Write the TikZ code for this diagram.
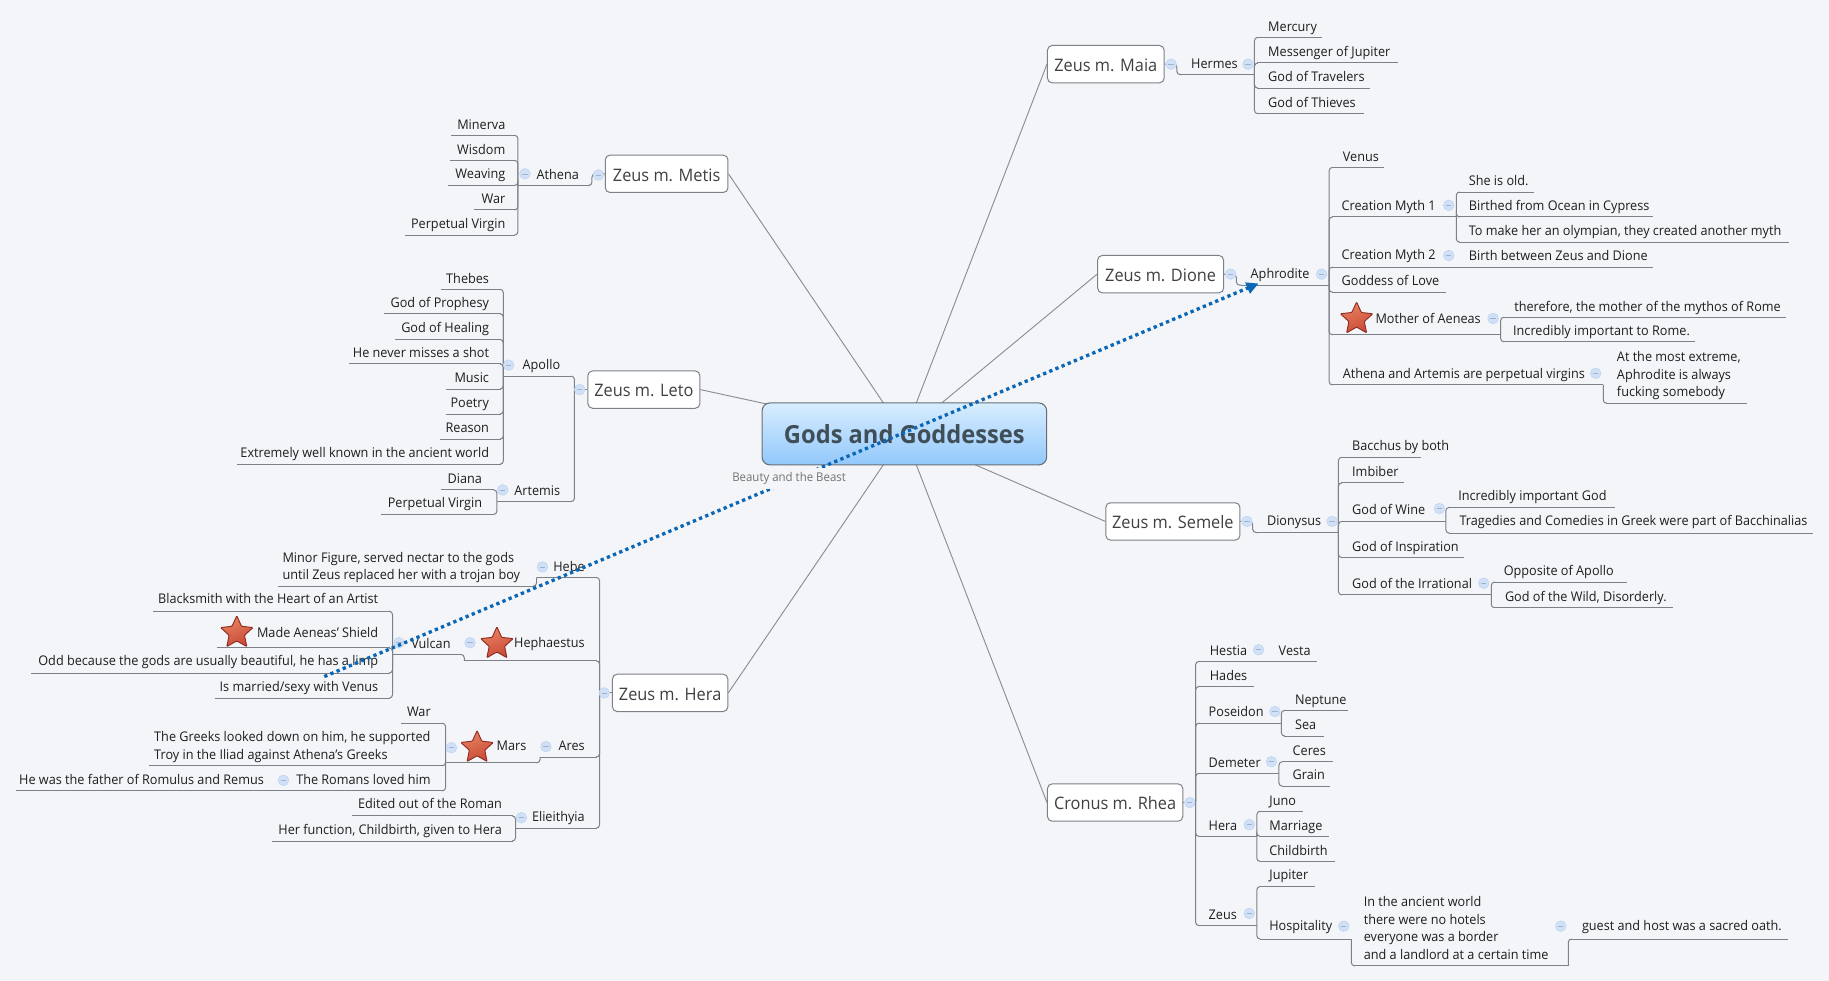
\documentclass[tikz,border=0pt]{standalone}
\usepackage{fontspec}
\setmainfont{Open Sans}[FakeStretch=0.95]
\newfontfamily\headfont{Open Sans}[FakeStretch=0.95]
\usetikzlibrary{shapes.geometric,arrows.meta,calc}
\definecolor{bgc}{HTML}{F3F5F9}
\definecolor{wirec}{HTML}{7C8087}
\definecolor{mainc}{HTML}{8A8D92}
\definecolor{txt}{HTML}{1E1E1E}
\definecolor{knobf}{HTML}{D0E0F6}
\definecolor{knobl}{HTML}{BDD3F0}
\definecolor{arrowc}{HTML}{0B67B5}
\definecolor{boxtop}{HTML}{D8EDFF}
\definecolor{boxbot}{HTML}{92C8FB}
\definecolor{headtxt}{HTML}{404E58}
\definecolor{stara}{HTML}{E8825F}
\definecolor{starb}{HTML}{F0B79F}
\definecolor{starc}{HTML}{C84A38}
\definecolor{stard}{HTML}{8E2B22}
\pgfdeclarelayer{wires}
\pgfsetlayers{wires,main}
\newdimen\tw
\newdimen\tp
\newcount\kc
\tikzset{
  wire/.style={draw=wirec,line width=0.75pt,rounded corners=2.5pt},
  topic/.style={inner xsep=0pt,inner ysep=1.5pt,text depth=3pt,font=\fontsize{10}{13}\selectfont,text=txt,anchor=south west},
  topicL/.style={topic,append after command={\pgfextra{\begin{pgfonlayer}{wires}\draw[wire] ([xshift=2.5pt]\tikzlastnode.south west) -- (\tikzlastnode.south east);\end{pgfonlayer}}}},
  topicR/.style={topic,append after command={\pgfextra{\begin{pgfonlayer}{wires}\draw[wire] (\tikzlastnode.south west) -- ([xshift=-2.5pt]\tikzlastnode.south east);\end{pgfonlayer}}}},
  major/.style={draw=wirec,fill=white,line width=0.75pt,rounded corners=3.5pt,inner sep=0pt,minimum height=28pt,text height=11pt,text depth=0pt,font=\fontsize{12.9}{15}\selectfont,text=txt!85!white},
  centre/.style={draw=wirec!85!black,line width=0.8pt,rounded corners=6pt,minimum width=213.5pt,minimum height=46.5pt,inner sep=0pt,
    top color=boxtop,bottom color=boxbot,font=\headfont\bfseries\fontsize{18.7}{22}\selectfont,text=headtxt},
  knob/.style={circle,minimum size=8pt,inner sep=0pt,fill=knobf,draw=knobl,line width=0.4pt,
    path picture={\draw[knobl!85!black,line width=0.4pt] ([xshift=-2pt]path picture bounding box.center) -- ([xshift=2pt]path picture bounding box.center);}},
  bigstar/.style={star,star points=5,star point ratio=2.1,minimum size=25.5pt,inner sep=0pt,draw=stard,line width=0.7pt,
    left color=stara,middle color=starb,right color=starc,shading angle=20,rounded corners=0.6pt},
  mainwire/.style={draw=mainc,line width=0.7pt},
  rel/.style={draw=arrowc,line width=2.5pt,dash pattern=on 2.5pt off 2.5pt,-{Triangle[length=9pt,width=8.5pt]}},
  beastlabel/.style={fill=bgc,inner sep=0pt,minimum width=100pt,minimum height=15.7pt,text=black!55,font=\fontsize{9.05}{10}\selectfont},
}
% left aligned topic: name, xl, xr, y of underline, x of text start, text
\newcommand\TL[6]{\pgfmathsetlength\tw{(#3-#2)*0.875pt}\pgfmathsetlength\tp{(#5-#2)*0.875pt}%
  \node[topicL] (#1) at (#2,#4) {\makebox[\tw][l]{\hspace{\tp}#6}};}
% right aligned topic: name, xl, xr, y of underline, x of text end, text
\newcommand\TR[6]{\pgfmathsetlength\tw{(#3-#2)*0.875pt}\pgfmathsetlength\tp{(#3-#5)*0.875pt}%
  \node[topicR] (#1) at (#2,#4) {\makebox[\tw][r]{#6\hspace{\tp}}};}
% left-hand-side topic whose lines are set flush left: name, xl, xr, y of underline, x of text start, text
\newcommand\TB[6]{\pgfmathsetlength\tw{(#3-#2)*0.875pt}\pgfmathsetlength\tp{(#5-#2)*0.875pt}%
  \node[topicR] (#1) at (#2,#4) {\makebox[\tw][l]{\hspace{\tp}#6}};}
\newcommand\KN[2]{\global\advance\kc by 1 \node[knob] (k\the\kc) at (#1,#2) {};}
\newcommand\STK[1]{\vbox{\baselineskip=13.2pt\lineskiplimit=-20pt #1}}
\begin{document}
\begin{tikzpicture}[x=0.875pt,y=-0.875pt]
\useasboundingbox (0,0) rectangle (1568,841);
\begin{pgfonlayer}{wires}\fill[bgc] (0,0) rectangle (1568,841);\end{pgfonlayer}

% centre
\node[centre] (center) at (775.3,372) {Gods and Goddesses};

% major topics
\node[major,minimum width=87.5pt] (maia) at (948,55) {Zeus m. Maia};
\node[major,minimum width=94.5pt] (dione) at (995,235) {Zeus m. Dione};
\node[major,minimum width=100.6pt] (semele) at (1005.5,447) {Zeus m. Semele};
\node[major,minimum width=101.5pt] (rhea) at (956,688) {Cronus m. Rhea};
\node[major,minimum width=92pt] (metis) at (571.5,149) {Zeus m. Metis};
\node[major,minimum width=84pt] (leto) at (552,334) {Zeus m. Leto};
\node[major,minimum width=86.5pt] (hera) at (574.5,594) {Zeus m. Hera};

\begin{pgfonlayer}{wires}
\foreach \t/\a in {maia/west,dione/west,semele/west,rhea/west,metis/east,leto/east,hera/east}
  \draw[mainwire] (center.center) -- (\t.\a);
\end{pgfonlayer}

% ---- Maia
\TL{hermes}{1010}{1075}{64}{1021}{Hermes}
\TL{mercury}{1075}{1133}{32}{1087}{Mercury}
\TL{messenger}{1075}{1198}{54}{1087}{Messenger of Jupiter}
\TL{travelers}{1075}{1174}{75.5}{1087}{God of Travelers}
\TL{thieves}{1075}{1169}{97.5}{1087}{God of Thieves}
% ---- Dione
\TL{aphrodite}{1061}{1139}{244.5}{1072}{Aphrodite}
\TL{venus}{1139}{1186}{143.5}{1151}{Venus}
\TL{cm1}{1139}{1248}{186}{1150}{Creation Myth 1}
\TL{old}{1248}{1315}{164.6}{1259}{She is old.}
\TL{ocean}{1248}{1417}{186}{1259}{Birthed from Ocean in Cypress}
\TL{olympian}{1248}{1533}{207.6}{1259}{To make her an olympian, they created another myth}
\TL{cm2}{1139}{1248}{229}{1150}{\raisebox{0.8pt}{Creation Myth 2}}
\TL{birth}{1248}{1417}{229}{1259}{Birth between Zeus and Dione}
\TL{love}{1139}{1239}{250.5}{1150}{Goddess of Love}
\TL{aeneas}{1139}{1286}{287}{1179}{\raisebox{3.5pt}{Mother of Aeneas}}
\TL{mythos}{1286}{1531}{272}{1298}{therefore, the mother of the mythos of Rome}
\TL{rome}{1286}{1453}{293}{1297}{Incredibly important to Rome.}
\TL{virgins}{1139}{1374}{330}{1151}{Athena and Artemis are perpetual virgins}
\TL{extreme}{1374}{1497}{345.7}{1386}{\STK{\hbox{At the most extreme,}\hbox{Aphrodite is always}\hbox{fucking somebody}}}
% ---- Semele
\TL{dionysus}{1075}{1147}{456.5}{1086}{\raisebox{0.8pt}{Dionysus}}
\TL{bacchus}{1147}{1218}{392}{1159}{Bacchus by both}
\TL{imbiber}{1147}{1203}{414}{1159}{Imbiber}
\TL{wine}{1147}{1239}{447}{1159}{\raisebox{0.8pt}{God of Wine}}
\TL{impgod}{1239}{1384}{435}{1250}{\raisebox{0.8pt}{Incredibly important God}}
\TL{tragedies}{1239}{1554}{457}{1251}{\raisebox{0.8pt}{Tragedies and Comedies in Greek were part of Bacchinalias}}
\TL{inspiration}{1147}{1255}{478}{1159}{God of Inspiration}
\TL{irrational}{1147}{1278}{510}{1159}{God of the Irrational}
\TL{opposite}{1278}{1394}{499}{1289}{Opposite of Apollo}
\TL{wild}{1278}{1434}{521}{1290}{God of the Wild, Disorderly.}
% ---- Rhea
\coordinate (rhbus) at (1025,688);
\TL{hestia}{1025}{1084}{567}{1037}{Hestia}
\TL{vesta}{1084}{1129}{567}{1096}{Vesta}
\TL{hades}{1025}{1075}{588.5}{1037}{Hades}
\TL{poseidon}{1025}{1098}{620}{1036}{Poseidon}
\TL{neptune}{1098}{1155}{609}{1110}{Neptune}
\TL{sea}{1098}{1135}{631}{1110}{Sea}
\TL{demeter}{1025}{1096}{663}{1036}{Demeter}
\TL{ceres}{1096}{1142}{653}{1108}{Ceres}
\TL{grain}{1096}{1140}{674}{1108}{Grain}
\TL{herab}{1025}{1077}{717}{1036}{Hera}
\TL{juno}{1077}{1117}{695.5}{1088}{Juno}
\TL{marriage}{1077}{1139}{717}{1088}{Marriage}
\TL{childbirth}{1077}{1144}{738.5}{1088}{Childbirth}
\TL{zeus}{1025}{1077}{793.5}{1036}{Zeus}
\TL{jupiter}{1077}{1127}{760}{1088}{\raisebox{0.8pt}{Jupiter}}
\TL{hospitality}{1077}{1158}{805}{1088}{\raisebox{1.75pt}{Hospitality}}
\TL{world}{1158}{1344}{828}{1169}{\STK{\hbox{In the ancient world}\hbox{there were no hotels}\hbox{everyone was a border}\hbox{and a landlord at a certain time}}}
\TL{oath}{1344}{1532}{805}{1356}{\raisebox{1.75pt}{guest and host was a sacred oath.}}
% ---- Metis
\TR{athena}{444}{508}{159}{496}{Athena}
\TR{minerva}{387}{444}{116}{433}{Minerva}
\TR{wisdom}{386}{444}{137.5}{433}{Wisdom}
\TR{weaving}{384}{444}{159}{433}{\raisebox{0.8pt}{Weaving}}
\TR{war}{406}{444}{180}{433}{War}
\TR{pvirgin}{347}{444}{201.5}{433}{Perpetual Virgin}
% ---- Leto
\coordinate (lebus) at (492.5,334);
\TR{apollo}{431.5}{492.5}{322.5}{480}{Apollo}
\TR{thebes}{378}{431.5}{248}{419}{Thebes}
\TR{prophesy}{329}{431.5}{269}{419}{God of Prophesy}
\TR{healing}{338.5}{431.5}{291}{419}{\raisebox{0.8pt}{God of Healing}}
\TR{shot}{299}{431.5}{312}{419}{He never misses a shot}
\TR{music}{382}{431.5}{333.5}{419}{Music}
\TR{poetry}{382}{431.5}{355}{419}{Poetry}
\TR{reason}{377}{431.5}{376.5}{419}{Reason}
\TR{known}{203}{431.5}{398}{419}{Extremely well known in the ancient world}
\TR{artemis}{426}{492.5}{430}{480}{Artemis}
\TR{diana}{378}{426}{420}{413}{Diana}
\TR{pvirginb}{327}{426}{441}{413}{\raisebox{0.8pt}{Perpetual Virgin}}
% ---- Hera
\coordinate (hebus) at (514,594);
\TR{hebe}{460}{514}{495}{501}{Hebe}
\TB{minor}{238}{460}{502.5}{242}{\STK{\hbox{Minor Figure, served nectar to the gods}\hbox{until Zeus replaced her with a trojan boy}}}
\TR{hephaestus}{398}{514}{566.5}{501}{\raisebox{5pt}{Hephaestus}}
\TR{vulcan}{336.5}{398}{561}{386}{Vulcan}
\TR{blacksmith}{131.5}{336.5}{524}{324}{\raisebox{0.8pt}{Blacksmith with the Heart of an Artist}}
\TR{shield}{186}{336.5}{555.5}{324}{\raisebox{3.5pt}{Made Aeneas' Shield}}
\TR{limp}{27}{336.5}{577}{324}{\raisebox{0.8pt}{Odd because the gods are usually beautiful, he has a limp}}
\TR{sexy}{184}{336.5}{598.5}{324}{Is married/sexy with Venus}
\TR{ares}{463}{514}{649}{501}{Ares}
\TR{mars}{382}{463}{654}{451}{\raisebox{4.4pt}{Mars}}
\TR{warb}{344}{382}{620}{369}{War}
\TB{greeks}{128}{382}{656.5}{132}{\STK{\hbox{The Greeks looked down on him, he supported}\hbox{Troy in the Iliad against Athena's Greeks}}}
\TR{romans}{238}{382}{678}{369}{The Romans loved him}
\TR{father}{14}{238}{678}{226}{He was the father of Romulus and Remus}
\TR{elei}{442}{514}{710}{501}{Elieithyia}
\TR{edited}{302}{442}{699.5}{430}{\raisebox{0.8pt}{Edited out of the Roman}}
\TR{function}{233}{442}{721}{430}{Her function, Childbirth, given to Hera}

% connectors
\begin{pgfonlayer}{wires}
\draw[wire] (maia.east) -- ++(10.5,0) |- ([xshift=3pt]hermes.south west);
\draw[wire] (dione.east) -- ++(10.5,0) |- ([xshift=3pt]aphrodite.south west);
\draw[wire] (semele.east) -- ++(10.5,0) |- ([xshift=3pt]dionysus.south west);
\draw[wire] (rhea.east) -- (rhbus);
\draw[wire] (metis.west) -- ++(-11,0) |- ([xshift=-3pt]athena.south east);
\draw[wire] (leto.west) -- (lebus);
\draw[wire] (hera.west) -- (hebus);
\foreach \c in {mercury,messenger,travelers,thieves} \draw[wire] (hermes.south east) |- ([xshift=3pt]\c.south west);
\foreach \c in {venus,cm1,cm2,love,aeneas,virgins} \draw[wire] (aphrodite.south east) |- ([xshift=3pt]\c.south west);
\foreach \c in {old,ocean,olympian} \draw[wire] (cm1.south east) |- ([xshift=3pt]\c.south west);
\draw[wire] (cm2.south east) -- ([xshift=3pt]birth.south west);
\foreach \c in {mythos,rome} \draw[wire] (aeneas.south east) |- ([xshift=3pt]\c.south west);
\draw[wire] (virgins.south east) |- ([xshift=3pt]extreme.south west);
\foreach \c in {bacchus,imbiber,wine,inspiration,irrational} \draw[wire] (dionysus.south east) |- ([xshift=3pt]\c.south west);
\foreach \c in {impgod,tragedies} \draw[wire] (wine.south east) |- ([xshift=3pt]\c.south west);
\foreach \c in {opposite,wild} \draw[wire] (irrational.south east) |- ([xshift=3pt]\c.south west);
\foreach \c in {hestia,hades,poseidon,demeter,herab,zeus} \draw[wire] (rhbus) |- ([xshift=3pt]\c.south west);
\draw[wire] (hestia.south east) -- ([xshift=3pt]vesta.south west);
\foreach \c in {neptune,sea} \draw[wire] (poseidon.south east) |- ([xshift=3pt]\c.south west);
\foreach \c in {ceres,grain} \draw[wire] (demeter.south east) |- ([xshift=3pt]\c.south west);
\foreach \c in {juno,marriage,childbirth} \draw[wire] (herab.south east) |- ([xshift=3pt]\c.south west);
\foreach \c in {jupiter,hospitality} \draw[wire] (zeus.south east) |- ([xshift=3pt]\c.south west);
\draw[wire] (hospitality.south east) |- ([xshift=3pt]world.south west);
\draw[wire] (world.south east) |- ([xshift=3pt]oath.south west);
\foreach \c in {minerva,wisdom,weaving,war,pvirgin} \draw[wire] (athena.south west) |- ([xshift=-3pt]\c.south east);
\foreach \c in {apollo,artemis} \draw[wire] (lebus) |- ([xshift=-3pt]\c.south east);
\foreach \c in {thebes,prophesy,healing,shot,music,poetry,reason,known} \draw[wire] (apollo.south west) |- ([xshift=-3pt]\c.south east);
\foreach \c in {diana,pvirginb} \draw[wire] (artemis.south west) |- ([xshift=-3pt]\c.south east);
\foreach \c in {hebe,hephaestus,ares,elei} \draw[wire] (hebus) |- ([xshift=-3pt]\c.south east);
\draw[wire] (hebe.south west) |- ([xshift=-3pt]minor.south east);
\draw[wire] (hephaestus.south west) |- ([xshift=-3pt]vulcan.south east);
\foreach \c in {blacksmith,shield,limp,sexy} \draw[wire] (vulcan.south west) |- ([xshift=-3pt]\c.south east);
\draw[wire] (ares.south west) |- ([xshift=-3pt]mars.south east);
\foreach \c in {warb,greeks,romans} \draw[wire] (mars.south west) |- ([xshift=-3pt]\c.south east);
\draw[wire] (romans.south west) -- ([xshift=-3pt]father.south east);
\foreach \c in {edited,function} \draw[wire] (elei.south west) |- ([xshift=-3pt]\c.south east);
\end{pgfonlayer}

% stars
\node[bigstar] (staraeneas) at (1163,273.5) {};
\node[bigstar] (starheph) at (426,552) {};
\node[bigstar] (starshield) at (203,542.5) {};
\node[bigstar] (starmars) at (409,641) {};

% collapse knobs
\KN{1004}{55}\KN{1070}{55}\KN{1055}{235}\KN{1133}{235}\KN{1242}{176}\KN{1242}{219}\KN{1280}{273}\KN{1368}{320}
\KN{1069}{447}\KN{1142}{447}\KN{1234}{436}\KN{1272}{500}
\KN{1020}{688}\KN{1079}{557}\KN{1093}{610}\KN{1090}{653}\KN{1071}{707}\KN{1071}{783}\KN{1152}{794}\KN{1338}{794}
\KN{513}{150}\KN{450}{149}\KN{497}{334}\KN{436}{313}\KN{431}{420}
\KN{518}{594}\KN{465}{486}\KN{403}{551}\KN{342}{551}\KN{468}{640}\KN{387}{641}\KN{243}{669}\KN{447}{701}

% relationship
\coordinate (relstart) at ($(limp.south west)+(251,3)$);
\coordinate (relend) at ($(aphrodite.south west)+(18,-1.5)$);
\draw[rel] (relstart) -- (relend);
\node[beastlabel] (beauty) at (676.5,410) {Beauty and the Beast};
\end{tikzpicture}
\end{document}
